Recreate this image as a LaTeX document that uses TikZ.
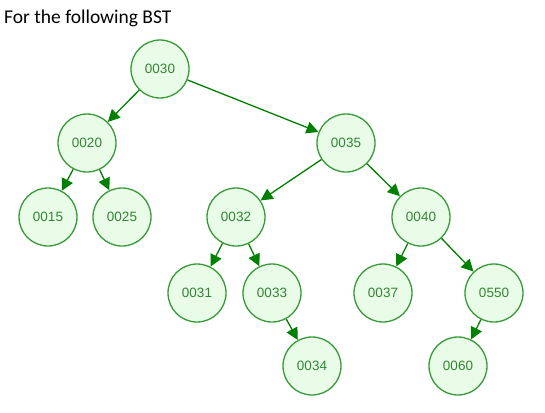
\documentclass[tikz,border=0pt]{standalone}
\usepackage{fontspec}
\setmainfont{Carlito}
\newfontfamily\keyfont{Liberation Sans}
\usetikzlibrary{arrows.meta}

\begin{document}
\begin{tikzpicture}[x=1pt, y=-1pt]

   %my colors
\definecolor{nodefill}{rgb}{0.91, 0.99, 0.91}
\definecolor{nodeline}{rgb}{0.22, 0.60, 0.22}
\definecolor{nodetext}{rgb}{0.20, 0.52, 0.20}
\definecolor{edgeline}{rgb}{0.18, 0.58, 0.18}
\definecolor{tipgreen}{rgb}{0.0, 0.50, 0.0}

    % styles for keys and edges
    \tikzset{
      bstkey/.style={circle, draw=nodeline, fill=nodefill, line width=1.3pt,
        minimum size=58pt, inner sep=0pt, text=nodetext,
        font=\keyfont\fontsize{13.5}{15}\selectfont},
      bstedge/.style={draw=edgeline, line width=1.3pt,
        -{Triangle[length=12pt, width=12pt, fill=tipgreen]}, tipgreen}
    }

    % page frame
    \useasboundingbox (0,0) rectangle (545,412);

    % Title
    \node[anchor=west, inner sep=0pt, font=\fontsize{19.5}{23}\selectfont] (title) at (4,18) {For the following BST};

    % Keys of the tree
    \node[bstkey] (k30) at (160,69) {0030};
    \node[bstkey] (k20) at (87,143) {0020};
    \node[bstkey] (k35) at (346,143) {0035};
    \node[bstkey] (k15) at (48,217) {0015};
    \node[bstkey] (k25) at (122,217) {0025};
    \node[bstkey] (k32) at (236,217) {0032};
    \node[bstkey] (k40) at (421,217) {0040};
    \node[bstkey] (k31) at (197,293) {0031};
    \node[bstkey] (k33) at (272,293) {0033};
    \node[bstkey] (k37) at (383,293) {0037};
    \node[bstkey] (k550) at (494,293) {0550};
    \node[bstkey] (k34) at (312,366) {0034};
    \node[bstkey] (k60) at (458,366) {0060};

    % Edges parent -> child
    \draw[bstedge] (k30) -- (k20);
    \draw[bstedge] (k30) -- (k35);
    \draw[bstedge] (k20) -- (k15);
    \draw[bstedge] (k20) -- (k25);
    \draw[bstedge] (k35) -- (k32);
    \draw[bstedge] (k35) -- (k40);
    \draw[bstedge] (k32) -- (k31);
    \draw[bstedge] (k32) -- (k33);
    \draw[bstedge] (k33) -- (k34);
    \draw[bstedge] (k40) -- (k37);
    \draw[bstedge] (k40) -- (k550);
    \draw[bstedge] (k550) -- (k60);

\end{tikzpicture}
\end{document}
